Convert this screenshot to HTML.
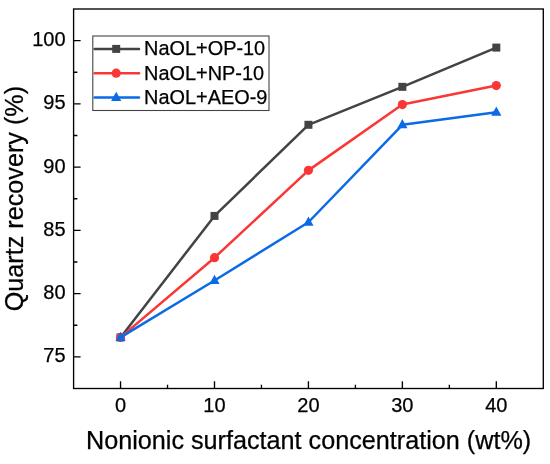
<!DOCTYPE html>
<html><head><meta charset="utf-8"><title>Quartz recovery</title>
<style>html,body{margin:0;padding:0;background:#fff}svg{display:block}text{font-family:"Liberation Sans",Arial,sans-serif;fill:#000;stroke:#000;stroke-width:0.25px}</style></head><body>
<svg width="550" height="464" viewBox="0 0 550 464">
<rect width="550" height="464" fill="#fff"/>
<rect x="73.60" y="9.00" width="469.70" height="379.50" fill="none" stroke="#000" stroke-width="1.35"/>
<path d="M73.60 356.85h7 M73.60 293.60h7 M73.60 230.35h7 M73.60 167.10h7 M73.60 103.85h7 M73.60 40.60h7 M73.60 325.23h3.8 M73.60 261.98h3.8 M73.60 198.72h3.8 M73.60 135.47h3.8 M73.60 72.22h3.8 M120.55 388.50v-7.3 M214.49 388.50v-7.3 M308.43 388.50v-7.3 M402.37 388.50v-7.3 M496.31 388.50v-7.3 M167.52 388.50v-3.8 M261.46 388.50v-3.8 M355.40 388.50v-3.8 M449.34 388.50v-3.8" stroke="#000" stroke-width="1.35" fill="none"/>
<text x="65.6" y="362.35" font-size="20" text-anchor="end">75</text>
<text x="65.6" y="299.10" font-size="20" text-anchor="end">80</text>
<text x="65.6" y="235.85" font-size="20" text-anchor="end">85</text>
<text x="65.6" y="172.60" font-size="20" text-anchor="end">90</text>
<text x="65.6" y="109.35" font-size="20" text-anchor="end">95</text>
<text x="65.6" y="46.10" font-size="20" text-anchor="end">100</text>
<text x="120.55" y="411.6" font-size="20" text-anchor="middle">0</text>
<text x="214.49" y="411.6" font-size="20" text-anchor="middle">10</text>
<text x="308.43" y="411.6" font-size="20" text-anchor="middle">20</text>
<text x="402.37" y="411.6" font-size="20" text-anchor="middle">30</text>
<text x="496.31" y="411.6" font-size="20" text-anchor="middle">40</text>
<text x="308.6" y="449.2" font-size="25.2" text-anchor="middle">Nonionic surfactant concentration (wt%)</text>
<text transform="translate(23.2 198.6) rotate(-90)" font-size="25.2" text-anchor="middle">Quartz recovery (%)</text>
<polyline points="120.55,337.42 214.49,215.92 308.43,124.80 402.37,86.83 496.31,47.59" fill="none" stroke="#434343" stroke-width="2.5" stroke-linejoin="round"/>
<rect x="116.55" y="333.42" width="8.0" height="8.0" fill="#434343"/>
<rect x="210.49" y="211.92" width="8.0" height="8.0" fill="#434343"/>
<rect x="304.43" y="120.80" width="8.0" height="8.0" fill="#434343"/>
<rect x="398.37" y="82.83" width="8.0" height="8.0" fill="#434343"/>
<rect x="492.31" y="43.59" width="8.0" height="8.0" fill="#434343"/>
<polyline points="120.55,337.42 214.49,257.68 308.43,170.36 402.37,104.55 496.31,85.56" fill="none" stroke="#fa3636" stroke-width="2.5" stroke-linejoin="round"/>
<circle cx="120.55" cy="337.42" r="4.6" fill="#fa3636"/>
<circle cx="214.49" cy="257.68" r="4.6" fill="#fa3636"/>
<circle cx="308.43" cy="170.36" r="4.6" fill="#fa3636"/>
<circle cx="402.37" cy="104.55" r="4.6" fill="#fa3636"/>
<circle cx="496.31" cy="85.56" r="4.6" fill="#fa3636"/>
<polyline points="120.55,337.42 214.49,280.46 308.43,222.25 402.37,124.80 496.31,112.14" fill="none" stroke="#0b6ae6" stroke-width="2.5" stroke-linejoin="round"/>
<polygon points="120.55,331.71 115.45,340.91 125.65,340.91" fill="#0b6ae6"/>
<polygon points="214.49,274.76 209.39,283.96 219.59,283.96" fill="#0b6ae6"/>
<polygon points="308.43,216.54 303.33,225.74 313.53,225.74" fill="#0b6ae6"/>
<polygon points="402.37,119.09 397.27,128.29 407.47,128.29" fill="#0b6ae6"/>
<polygon points="496.31,106.44 491.21,115.64 501.41,115.64" fill="#0b6ae6"/>
<rect x="92.8" y="36" width="176.2" height="74.5" fill="#fff" stroke="#444" stroke-width="1.1"/>
<path d="M94.6 48.90H139" stroke="#434343" stroke-width="2.5" stroke-linecap="round"/>
<rect x="112.20" y="44.90" width="8.0" height="8.0" fill="#434343"/>
<text x="144.1" y="55.40" font-size="19.9">NaOL+OP-10</text>
<path d="M94.6 73.20H139" stroke="#fa3636" stroke-width="2.5" stroke-linecap="round"/>
<circle cx="116.20" cy="73.20" r="4.6" fill="#fa3636"/>
<text x="144.1" y="79.70" font-size="19.9">NaOL+NP-10</text>
<path d="M94.6 97.50H139" stroke="#0b6ae6" stroke-width="2.5" stroke-linecap="round"/>
<polygon points="116.20,91.80 111.10,101.00 121.30,101.00" fill="#0b6ae6"/>
<text x="144.1" y="104.00" font-size="19.9">NaOL+AEO-9</text>
</svg></body></html>
